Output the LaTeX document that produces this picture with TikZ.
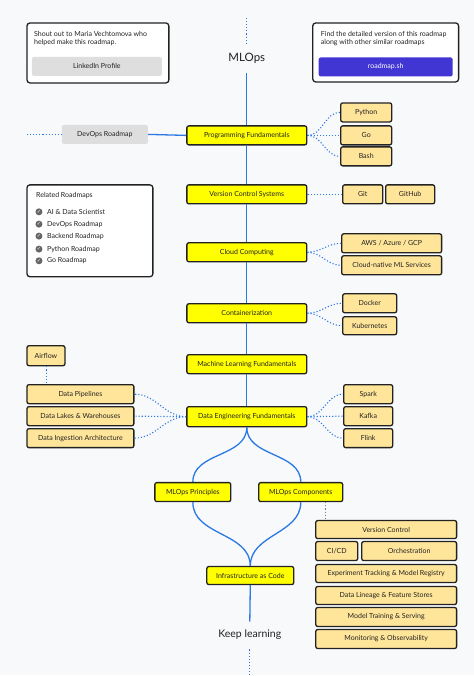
\documentclass[tikz,border=0pt]{standalone}
\usepackage{fontspec}
\setmainfont{Lato}
\newfontfamily\symfont{DejaVu Sans}
\definecolor{pagebg}{HTML}{F8F9FB}
\definecolor{spine}{HTML}{2B78E4}
\definecolor{topicfill}{HTML}{FFFF00}
\definecolor{subfill}{HTML}{FFE599}
\definecolor{btngray}{HTML}{DEDEDE}
\definecolor{btnblue}{HTML}{4136D4}
\definecolor{edge}{HTML}{222222}
\begin{document}
\begin{tikzpicture}[x=1pt, y=-1pt, every node/.style={font=\fontsize{7}{8.6}\selectfont,
					text=edge},
				topic/.style={draw=edge, line width=1.3pt, rounded corners=2pt, fill=topicfill,
					minimum height=19pt, inner sep=0pt},
				subtopic/.style={draw=edge, line width=1.3pt, rounded corners=2pt, fill=subfill,
					minimum height=19pt, inner sep=0pt},
				panel/.style={draw=edge, line width=1.3pt, rounded corners=3pt, fill=white,
					inner sep=0pt},
				btn/.style={rounded corners=2pt, minimum height=19pt, inner sep=0pt},
				spineline/.style={spine, line width=1.3pt},
				dotline/.style={spine, line width=1.1pt, dotted},
				chkdot/.style={circle, fill=black!60, inner sep=0pt, minimum size=7pt,
					font=\symfont\fontsize{5}{5}\selectfont, text=white}]
				\fill[pagebg] (0,0) rectangle (474,676);
				% header panels
				\node[panel, minimum width=142pt, minimum height=60pt] (shout) at (98,53) {};
				\node[anchor=north west, align=left, inner sep=0pt] (shouttxt) at (34,31)
				{Shout out to Maria Vechtomova who\\helped make this roadmap.};
				\node[btn, fill=btngray, minimum width=130pt] (linkedin) at (97,66.5)
				{LinkedIn Profile};
				\node[panel, minimum width=146pt, minimum height=59pt] (info) at (386,52.5) {};
				\node[anchor=north west, align=left, inner sep=0pt] (infotxt) at (321,31)
				{Find the detailed version of this roadmap\\along with other similar roadmaps};
				\node[btn, fill=btnblue, minimum width=134pt, text=white] (rmsh) at (386,67)
				{roadmap.sh};
				\node[font=\fontsize{11.5}{13}\selectfont] (title) at (247,58) {MLOps};
				\coordinate (topend) at (247,18);
				\coordinate (spinetop) at (247,73);
				\draw[dotline] (topend) -- (247,45);

				% main topics
				\node[topic, minimum width=120pt] (prog) at (247,135.5) {Programming Fundamentals};
				\node[topic, minimum width=120pt] (vcs) at (247,194.5) {Version Control Systems};
				\node[topic, minimum width=120pt] (cloud) at (247,252.5) {Cloud Computing};
				\node[topic, minimum width=120pt] (contain) at (247,313.5) {Containerization};
				\node[topic, minimum width=120pt] (mlfund) at (247,364.5)
				{Machine Learning Fundamentals};
				\node[topic, minimum width=120pt, minimum height=20pt] (dataeng) at (247,417)
				{Data Engineering Fundamentals};
				\node[topic, minimum width=76pt] (principles) at (193,492.5) {MLOps Principles};
				\node[topic, minimum width=84pt] (components) at (301,492.5) {MLOps Components};
				\node[topic, minimum width=87pt, minimum height=18pt] (iac) at (250.5,576)
				{Infrastructure as Code};
				\node[font=\fontsize{10.5}{12}\selectfont] (keep) at (250,635) {Keep learning};
				\coordinate (iacend) at (250,622);
				\coordinate (bottomend) at (250,676);

				\draw[spineline] (spinetop) -- (prog.north);
				\draw[spineline] (prog.south) -- (vcs.north);
				\draw[spineline] (vcs.south) -- (cloud.north);
				\draw[spineline] (cloud.south) -- (contain.north);
				\draw[spineline] (contain.south) -- (mlfund.north);
				\draw[spineline] (mlfund.south) -- (dataeng.north);
				\draw[spineline] (dataeng.south) to[out=-90, in=90] (principles.north);
				\draw[spineline] (dataeng.south) to[out=-90, in=90] (components.north);
				\draw[spineline] (principles.south) to[out=-90, in=90] (iac.north);
				\draw[spineline] (components.south) to[out=-90, in=90] (iac.north);
				\draw[spineline] (iac.south) -- (iacend);
				\draw[dotline] (250,650) -- (bottomend);

				% devops link
				\node[btn, fill=btngray, minimum width=86pt] (devops) at (105,134.5)
				{DevOps Roadmap};
				\coordinate (devopsend) at (27,134.5);
				\draw[dotline] (devopsend) -- (devops.west);
				\draw[spineline] (devops.east) -- (prog.west);

				% languages
				\node[subtopic, minimum width=51pt] (python) at (366.5,112.5) {Python};
				\node[subtopic, minimum width=51pt] (golang) at (366.5,135.5) {Go};
				\node[subtopic, minimum width=51pt] (bash) at (366.5,156.5) {Bash};
				\draw[dotline] (prog.east) to[out=0, in=180] (python.west);
				\draw[dotline] (prog.east) -- (golang.west);
				\draw[dotline] (prog.east) to[out=0, in=180] (bash.west);

				% version control
				\node[subtopic, minimum width=40pt] (git) at (363,194.5) {Git};
				\node[subtopic, minimum width=49pt] (github) at (410.5,194.5) {GitHub};
				\draw[dotline] (vcs.east) -- (git.west);

				% cloud
				\node[subtopic, minimum width=100pt] (aws) at (392,243.5) {AWS / Azure / GCP};
				\node[subtopic, minimum width=100pt] (cloudml) at (392,265.5)
				{Cloud-native ML Services};
				\draw[dotline] (cloud.east) to[out=0, in=180] (aws.west);
				\draw[dotline] (cloud.east) to[out=0, in=180] (cloudml.west);

				% containers
				\node[subtopic, minimum width=54pt] (docker) at (370,303.5) {Docker};
				\node[subtopic, minimum width=54pt, minimum height=18pt] (kube) at (370,326)
				{Kubernetes};
				\draw[dotline] (contain.east) to[out=0, in=180] (docker.west);
				\draw[dotline] (contain.east) to[out=0, in=180] (kube.west);

				% data engineering
				\node[subtopic, minimum width=38pt, minimum height=20pt] (airflow) at (46,356)
				{Airflow};
				\node[subtopic, minimum width=107pt] (pipelines) at (80.5,394.5) {Data Pipelines};
				\node[subtopic, minimum width=107pt] (lakes) at (80.5,416.5)
				{Data Lakes \& Warehouses};
				\node[subtopic, minimum width=107pt] (ingest) at (80.5,438.5)
				{Data Ingestion Architecture};
				\draw[dotline, line width=0.9pt] (airflow.south) -- (airflow.south |- pipelines.north);
				\draw[dotline] (dataeng.west) to[out=180, in=0] (pipelines.east);
				\draw[dotline] (dataeng.west) -- (lakes.east);
				\draw[dotline] (dataeng.west) to[out=180, in=0] (ingest.east);
				\node[subtopic, minimum width=49pt] (spark) at (368.5,394.5) {Spark};
				\node[subtopic, minimum width=49pt] (kafka) at (368.5,416.5) {Kafka};
				\node[subtopic, minimum width=49pt] (flink) at (368.5,438.5) {Flink};
				\draw[dotline] (dataeng.east) to[out=0, in=180] (spark.west);
				\draw[dotline] (dataeng.east) -- (kafka.west);
				\draw[dotline] (dataeng.east) to[out=0, in=180] (flink.west);

				% mlops components
				\node[subtopic, minimum width=141pt, minimum height=18pt] (vcontrol) at (386.5,530)
				{Version Control};
				\node[subtopic, minimum width=42pt] (cicd) at (337,551.5) {CI/CD};
				\node[subtopic, minimum width=95pt] (orch) at (409.5,551.5) {Orchestration};
				\node[subtopic, minimum width=141pt, minimum height=18pt] (tracking) at (386.5,574)
				{Experiment Tracking \& Model Registry};
				\node[subtopic, minimum width=141pt, minimum height=18pt] (lineage) at (386.5,596)
				{Data Lineage \& Feature Stores};
				\node[subtopic, minimum width=141pt] (serving) at (386.5,617.5)
				{Model Training \& Serving};
				\node[subtopic, minimum width=141pt] (monitor) at (386.5,639.5)
				{Monitoring \& Observability};
				\draw[edge!60, line width=1.1pt, dotted] (components.south -| vcontrol.north west)
				++(10,0) coordinate (compdrop) -- (compdrop |- vcontrol.north);

				% related roadmaps
				\node[panel, minimum width=126pt, minimum height=92pt] (related) at (90,231) {};
				\node[anchor=west, inner sep=0pt] (reltitle) at (36,196) {Related Roadmaps};
				\node[chkdot] (ck1) at (39,212) {✓};
				\node[anchor=west, inner sep=0pt] (rel1) at (47,212) {AI \& Data Scientist};
				\node[chkdot] (ck2) at (39,224.3) {✓};
				\node[anchor=west, inner sep=0pt] (rel2) at (47,224.3) {DevOps Roadmap};
				\node[chkdot] (ck3) at (39,236.3) {✓};
				\node[anchor=west, inner sep=0pt] (rel3) at (47,236.3) {Backend Roadmap};
				\node[chkdot] (ck4) at (39,249.3) {✓};
				\node[anchor=west, inner sep=0pt] (rel4) at (47,249.3) {Python Roadmap};
				\node[chkdot] (ck5) at (39,261) {✓};
				\node[anchor=west, inner sep=0pt] (rel5) at (47,261) {Go Roadmap};
			\end{tikzpicture}
\end{document}
